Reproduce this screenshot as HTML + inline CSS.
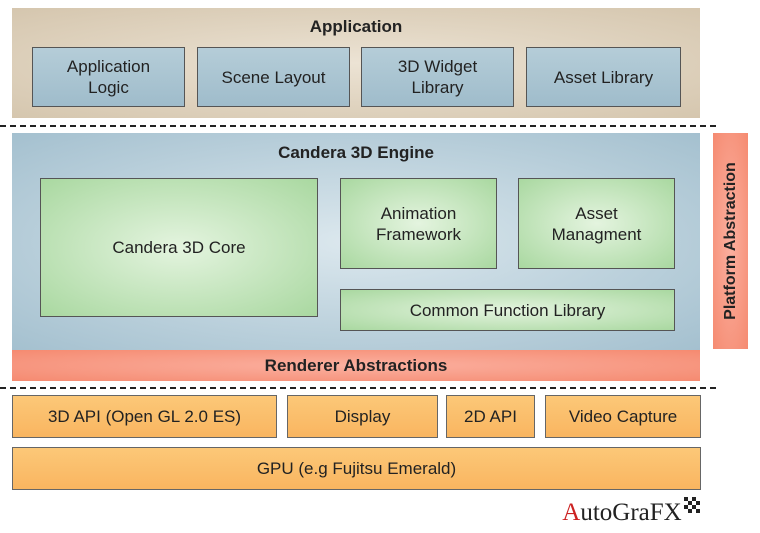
<!DOCTYPE html>
<html><head><style>
body{margin:0;width:760px;height:533px;background:#fff;position:relative;font-family:"Liberation Sans",sans-serif;overflow:hidden}
div{position:absolute;box-sizing:border-box}
.c{display:flex;align-items:center;justify-content:center;text-align:center;color:#222;font-size:17px;line-height:21px}
.b{border:1.5px solid #555;background:linear-gradient(#b5cdd8,#9fbccb)}
.g{border:1.5px solid #555;background:radial-gradient(ellipse at center,#e4f4df,#a9d8a0)}
.o{border:1.5px solid #666;background:linear-gradient(#fcc878,#f9b560)}
.dash{height:0;border-top:2px dashed #222;left:0;width:716px}
</style></head><body>
<div style="left:12px;top:8px;width:688px;height:110px;background:radial-gradient(ellipse at center,#ece3d4,#d5c6ae)"></div>
<div class="c" style="left:12px;top:14px;width:688px;height:24px;font-weight:bold;font-size:17px">Application</div>
<div class="c b" style="left:32px;top:47px;width:153px;height:60px">Application<br>Logic</div>
<div class="c b" style="left:197px;top:47px;width:153px;height:60px">Scene Layout</div>
<div class="c b" style="left:361px;top:47px;width:153px;height:60px">3D Widget<br>Library</div>
<div class="c b" style="left:526px;top:47px;width:155px;height:60px">Asset Library</div>
<div class="dash" style="top:125px"></div>
<div style="left:12px;top:133px;width:688px;height:218px;background:radial-gradient(ellipse at center,#dce8ee,#a4c0cf)"></div>
<div class="c" style="left:12px;top:140px;width:688px;height:24px;font-weight:bold">Candera 3D Engine</div>
<div class="c g" style="left:40px;top:178px;width:278px;height:139px">Candera 3D Core</div>
<div class="c g" style="left:340px;top:178px;width:157px;height:91px">Animation<br>Framework</div>
<div class="c g" style="left:518px;top:178px;width:157px;height:91px">Asset<br>Managment</div>
<div class="c g" style="left:340px;top:289px;width:335px;height:42px">Common Function Library</div>
<div class="c" style="left:12px;top:350px;width:688px;height:31px;background:radial-gradient(ellipse at center,#fbb0a0,#f58a70);font-weight:bold">Renderer Abstractions</div>
<div style="left:713px;top:133px;width:35px;height:216px;background:radial-gradient(ellipse at center,#fbb0a0,#f58a70)"></div>
<div class="c" style="left:630px;top:226px;width:200px;height:30px;transform:rotate(-90deg);font-weight:bold;font-size:16px">Platform Abstraction</div>
<div class="dash" style="top:387px"></div>
<div class="c o" style="left:12px;top:395px;width:265px;height:43px">3D API (Open GL 2.0 ES)</div>
<div class="c o" style="left:287px;top:395px;width:151px;height:43px">Display</div>
<div class="c o" style="left:446px;top:395px;width:89px;height:43px">2D API</div>
<div class="c o" style="left:545px;top:395px;width:156px;height:43px">Video Capture</div>
<div class="c o" style="left:12px;top:447px;width:689px;height:43px">GPU (e.g Fujitsu Emerald)</div>
<div class="c" style="left:552px;top:498px;width:140px;height:28px;font-family:'Liberation Serif',serif;font-size:25px;color:#222"><span style="color:#c22">A</span>utoGraFX</div>
<svg style="position:absolute;left:684px;top:497px" width="18" height="20"><g fill="#222"><rect x="0" y="0" width="4" height="4"/><rect x="8" y="0" width="4" height="4"/><rect x="4" y="4" width="4" height="4"/><rect x="12" y="4" width="4" height="4"/><rect x="0" y="8" width="4" height="4"/><rect x="8" y="8" width="4" height="4"/><rect x="4" y="12" width="4" height="4"/><rect x="12" y="12" width="4" height="4"/></g></svg>
</body></html>
